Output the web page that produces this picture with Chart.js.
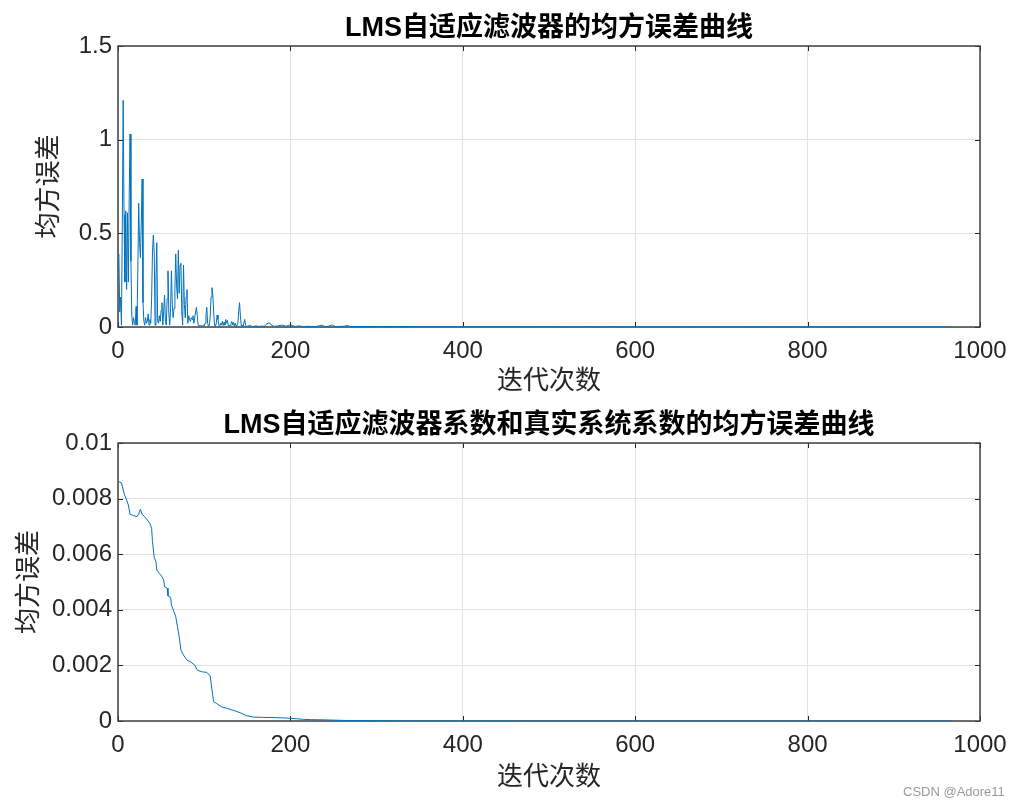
<!DOCTYPE html>
<html><head><meta charset="utf-8">
<script src="https://cdn.jsdelivr.net/npm/chart.js@4/dist/chart.umd.min.js"></script>
<style>
html,body{margin:0;padding:0;background:#fff;}
#wrap{position:relative;width:1014px;height:808px;overflow:hidden;background:#fff;}
.c{position:absolute;left:0;width:1014px;}
#mark{position:absolute;left:903px;top:784px;font:13px "Liberation Sans",Arial,sans-serif;color:#9a9a9a;white-space:nowrap;}
</style></head><body>
<div id="wrap">
<div class="c" style="top:0;height:400px"><canvas id="c1"></canvas></div>
<div class="c" style="top:400px;height:408px"><canvas id="c2"></canvas></div>
<div id="mark">CSDN @Adore11</div>
</div>
<script>
// ---- data ----
const title1 = 'LMS自适应滤波器的均方误差曲线';
const title2 = 'LMS自适应滤波器系数和真实系统系数的均方误差曲线';
const xLabel = '迭代次数';
const yLabel = '均方误差';
const xTickVals = [0, 200, 400, 600, 800, 1000];
const yTickVals1 = [0, 0.5, 1, 1.5];
const yTickLabels1 = ['0', '0.5', '1', '1.5'];
const yTickVals2 = [0, 0.002, 0.004, 0.006, 0.008, 0.01];
const yTickLabels2 = ['0', '0.002', '0.004', '0.006', '0.008', '0.01'];

// error MSE, iterations 1..150
const errHead = [
0.39,0.08,0.16,0.01,0.55,1.21,0.60,0.24,0.62,0.20,
0.61,0.24,0.70,1.03,0.35,0.06,0.01,0.05,0.02,0.01,
0.11,0.01,0.30,0.66,0.45,0.37,0.55,0.79,0.13,0.03,
0.01,0.05,0.02,0.03,0.07,0.01,0.04,0.02,0.15,0.40,
0.49,0.40,0.01,0.25,0.45,0.03,0.02,0.06,0.03,0.09,
0.13,0.01,0.08,0.17,0.03,0.01,0.15,0.30,0.07,0.01,
0.10,0.30,0.12,0.05,0.10,0.20,0.39,0.22,0.15,0.41,
0.18,0.33,0.34,0.08,0.01,0.33,0.12,0.05,0.16,0.20,
0.02,0.06,0.04,0.03,0.05,0.04,0.06,0.02,0.05,0.08,
0.105,0.06,0.01,0.005,0.01,0.003,0.008,0.004,0.01,0.006,
0.02,0.06,0.105,0.02,0.005,0.01,0.06,0.16,0.21,0.17,
0.08,0.01,0.003,0.02,0.064,0.04,0.01,0.005,0.02,0.01,
0.03,0.008,0.025,0.01,0.04,0.02,0.035,0.005,0.01,0.003,
0.02,0.03,0.01,0.025,0.004,0.02,0.005,0.01,0.02,0.08,
0.13,0.06,0.005,0.01,0.003,0.02,0.04,0.01,0.002,0.004
];
const errTailIter = [153,156,160,163,167,170,172,174,176,178,181,185,190,195,200,205,210,215,220,225,230,237,240,244,248,252,258,262,266,270,275,280,290,300,310,320,330,345,360,380,400,420,440,470,500,530,560,600,640,680,720,760,800,840,880,920,968];
const errTailVal = [0.008,0.002,0.006,0.003,0.005,0.004,0.015,0.02,0.022,0.01,0.003,0.006,0.01,0.004,0.012,0.003,0.006,0.002,0.004,0.002,0.003,0.01,0.002,0.004,0.011,0.002,0.003,0.004,0.008,0.002,0.003,0.002,0.003,0.001,0.002,0.001,0.002,0.001,0.001,0.001,0.0008,0.0005,0.0006,0.0004,0.0005,0.0003,0.0004,0.0003,0.0002,0.0003,0.0002,0.0002,0.0001,0.0002,0.0001,0.0001,0.0001];

// coefficient MSE
const coefIter = [1,4,7,10,12,14,18,22,24,26,28,31,34,37,39,40,42,44,45,48,51,53,54,57,58,61,62,65,67,69,71,73,76,80,84,89,92,97,103,107,109,111,114,120,126,132,138,143,149,157,169,184,200,215,223,240,263,300,340,400,500,600,700,800,900,968];
const coefVal = [0.00861,0.00857,0.00819,0.00795,0.00777,0.00743,0.00739,0.00735,0.00745,0.00762,0.00743,0.00735,0.00723,0.00711,0.00693,0.00645,0.00589,0.00573,0.00543,0.00531,0.00519,0.00507,0.00483,0.00478,0.0045,0.00445,0.00417,0.00393,0.00375,0.00339,0.00303,0.00255,0.00237,0.00219,0.00213,0.00201,0.00183,0.00177,0.00175,0.00162,0.00112,0.00069,0.00064,0.00051,0.00046,0.0004,0.00034,0.00028,0.00019,0.00014,0.00013,0.00012,0.0001,0.00006,0.00005,0.00004,0.00002,0.00001,0.000005,0.000003,0.000002,0.000001,0.000001,0.000001,0.000001,0.000001];

// ---- build ----
const errPts = errHead.map((v, i) => ({x: i + 1, y: v})).concat(errTailIter.map((x, i) => ({x, y: errTailVal[i]})));
const coefPts = coefIter.map((x, i) => ({x, y: coefVal[i]}));

const FONT = '"Liberation Sans", "Noto Sans CJK SC", Arial, sans-serif';
Chart.defaults.font.family = FONT;
Chart.defaults.color = '#262626';

const frame = {
  id: 'frame',
  beforeDatasetsDraw(chart) {
    const {ctx, chartArea: a, scales: {x, y}} = chart;
    const L = 5;
    ctx.save();
    ctx.strokeStyle = '#262626';
    ctx.lineWidth = 1;
    ctx.beginPath();
    x.ticks.forEach(t => {
      const p = Math.round(x.getPixelForValue(t.value)) + 0.5;
      ctx.moveTo(p, a.bottom); ctx.lineTo(p, a.bottom - L);
      ctx.moveTo(p, a.top); ctx.lineTo(p, a.top + L);
    });
    y.ticks.forEach(t => {
      const p = Math.round(y.getPixelForValue(t.value)) + 0.5;
      ctx.moveTo(a.left, p); ctx.lineTo(a.left + L, p);
      ctx.moveTo(a.right, p); ctx.lineTo(a.right - L, p);
    });
    ctx.stroke();
    ctx.lineWidth = 1.5;
    ctx.strokeStyle = '#404040';
    ctx.strokeRect(a.left, a.top, a.right - a.left, a.bottom - a.top);
    ctx.restore();
  },
  afterDraw(chart, args, opts) {
    const {ctx, chartArea: a} = chart;
    ctx.save();
    ctx.font = 'bold 27px ' + FONT;
    ctx.fillStyle = '#000';
    ctx.textAlign = 'center';
    ctx.textBaseline = 'alphabetic';
    ctx.fillText(opts.text, (a.left + a.right) / 2, a.top - opts.gap);
    ctx.restore();
  }
};

function makeChart(id, pts, yVals, yLabels, ymax, xH, xTitlePad, yTitlePad, titleText, titleGap, padTop) {
  return new Chart(document.getElementById(id), {
    type: 'line',
    data: {datasets: [{data: pts, borderColor: '#0072BD', borderWidth: 1, pointRadius: 0, tension: 0, fill: false}]},
    options: {
      responsive: true, maintainAspectRatio: false, animation: false,
      layout: {padding: {top: padTop, left: 0, right: 34, bottom: 0}},
      plugins: {legend: {display: false}, tooltip: {enabled: false}, frame: {text: titleText, gap: titleGap}},
      scales: {
        x: {
          type: 'linear', min: 0, max: 1000,
          afterBuildTicks: s => { s.ticks = xTickVals.map(v => ({value: v})); },
          afterFit: s => { s.height = xH; s.paddingRight = 20; s.paddingLeft = 0; },
          ticks: {font: {size: 24}, color: '#262626', padding: 10, maxRotation: 0, callback: v => String(v)},
          grid: {color: '#e3e3e3', lineWidth: 1, drawTicks: false},
          border: {display: false},
          title: {display: true, text: xLabel, font: {size: 26}, color: '#262626', padding: {top: 0, bottom: xTitlePad}}
        },
        y: {
          type: 'linear', min: 0, max: ymax,
          afterBuildTicks: s => { s.ticks = yVals.map(v => ({value: v})); },
          afterFit: s => { s.width = 118; },
          ticks: {font: {size: 24}, color: '#262626', padding: 6, callback: (v, i) => yLabels[i]},
          grid: {color: '#e3e3e3', lineWidth: 1, drawTicks: false},
          border: {display: false},
          title: {display: true, text: yLabel, font: {size: 26}, color: '#262626', padding: {top: yTitlePad, bottom: 0}}
        }
      }
    },
    plugins: [frame]
  });
}

makeChart('c1', errPts, yTickVals1, yTickLabels1, 1.5, 73, 3, 34, title1, 10, 46);
makeChart('c2', coefPts, yTickVals2, yTickLabels2, 0.01, 87, 15, 14, title2, 10, 43);
</script>
</body></html>
